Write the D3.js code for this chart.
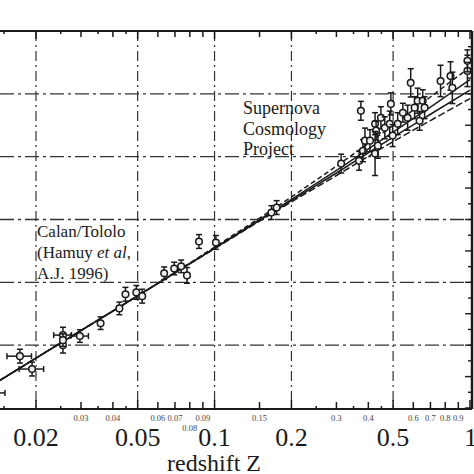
<!DOCTYPE html>
<html><head><meta charset="utf-8">
<script src="https://cdn.jsdelivr.net/npm/d3@7"></script>
<style>body{margin:0;background:#fff}svg{display:block}text{font-family:"Liberation Serif","DejaVu Serif",serif}</style>
</head><body><svg id="c" width="474" height="474"></svg>
<script>
// Calan/Tololo: redshift, magnitude, mag error, z error fraction
const calanZ = [0.0135,0.0173,0.0193,0.0255,0.0255,0.0255,0.0297,0.0358,0.0424,0.0448,0.0494,0.0521,0.0635,0.0695,0.074,0.078,0.0869,0.1012,0.167,0.175];
const calanM = [14.48,15.65,15.24,16.32,16.0,16.16,16.29,16.70,17.17,17.62,17.68,17.56,18.29,18.44,18.51,18.22,19.30,19.27,20.22,20.38];
const calanErr = [0.2,0.22,0.22,0.25,0.25,0.2,0.2,0.2,0.2,0.22,0.22,0.22,0.2,0.2,0.2,0.25,0.22,0.22,0.22,0.22];
const calanZErr = [0.12,0.11,0.11,0.08,0.0,0.0,0.08,0.0,0.0,0.0,0.0,0.0,0.0,0.0,0.0,0.0,0.0,0.0,0.0,0.0];
// Supernova Cosmology Project
const scpZ = [0.313,0.374,0.368,0.381,0.388,0.406,0.425,0.429,0.448,0.464,0.425,0.49,0.485,0.521,0.546,0.57,0.586,0.607,0.624,0.653,0.635,0.664,0.767,0.839,0.853,0.977,0.977,0.436,0.498];
const scpM = [21.78,23.46,21.87,22.19,22.51,22.51,23.05,22.83,23.24,22.92,22.10,23.68,23.05,23.05,23.40,23.24,24.35,23.56,23.78,23.78,23.14,23.56,24.41,24.57,24.19,24.73,25.05,22.35,22.67];
const scpErr = [0.3,0.3,0.3,0.35,0.4,0.35,0.35,0.3,0.35,0.35,0.7,0.35,0.4,0.35,0.3,0.4,0.45,0.35,0.4,0.35,0.3,0.35,0.5,0.45,0.5,0.5,0.35,0.4,0.35];
// model curves
const curveZ = [0.01,0.02,0.05,0.1,0.2,0.3,0.5,0.7,1.0];
const curveA = [14.08,15.59,17.57,19.12,20.72,21.70,23.0,23.90,24.85]; // dashed top
const curveB = [14.08,15.59,17.57,19.09,20.64,21.56,22.78,23.58,24.45];
const curveC = [14.08,15.59,17.57,19.08,20.60,21.48,22.62,23.35,24.12];
const curveD = [14.08,15.59,17.57,19.07,20.56,21.40,22.48,23.15,23.85]; // dashed bottom
const majorTicks = [0.02,0.05,0.1,0.2,0.5,1.0];
const majorLabels = ["0.02","0.05","0.1","0.2","0.5","1."];
const minorTicks = [0.01,0.03,0.04,0.06,0.07,0.08,0.09,0.15,0.3,0.4,0.6,0.7,0.8,0.9];
const minorLabels = ["0.01","0.03","0.04","0.06","0.07","0.08","0.09","0.15","0.3","0.4","0.6","0.7","0.8","0.9"];
const allTicks = [0.01,0.015,0.02,0.025,0.03,0.035,0.04,0.045,0.05,0.06,0.07,0.08,0.09,0.1,0.15,0.2,0.25,0.3,0.35,0.4,0.45,0.5,0.6,0.7,0.8,0.9,1.0];
const gridM = [24,22,20,18,16];
const magTicks = [14,14.5,15,15.5,16,16.5,17,17.5,18,18.5,19,19.5,20,20.5,21,21.5,22,22.5,23,23.5,24,24.5,25,25.5,26];

const svg = d3.select("#c");
const x = d3.scaleLog().domain([0.02,1.0]).range([36,470]);
const y = d3.scaleLinear().domain([14,26]).range([408,31]);
const X0=0, X1=472, Y0=31, Y1=409;
svg.append("defs").append("clipPath").attr("id","cp").append("rect").attr("x",X0).attr("y",Y0).attr("width",X1-X0).attr("height",Y1-Y0);
const g = svg.append("g").attr("clip-path","url(#cp)");
const ink="#1a1a1a";
g.selectAll(".hg").data(gridM).join("line").attr("x1",X0).attr("x2",X1).attr("y1",d=>y(d)).attr("y2",d=>y(d))
 .attr("stroke","#333").attr("stroke-width",1.3).attr("stroke-dasharray","14,4,3,4");
g.selectAll(".vg").data(majorTicks.slice(0,5)).join("line").attr("x1",d=>x(d)).attr("x2",d=>x(d)).attr("y1",Y0).attr("y2",Y1)
 .attr("stroke","#333").attr("stroke-width",1.2).attr("stroke-dasharray","10,4,2,4");
const line = d3.line().x((d,i)=>x(curveZ[i])).y(d=>y(d)).curve(d3.curveMonotoneX);
[[curveA,"5,3"],[curveB,null],[curveC,null],[curveD,"7,3"]].forEach(([c,da])=>{
  g.append("path").attr("d",line(c)).attr("fill","none").attr("stroke",ink).attr("stroke-width",1.5).attr("stroke-dasharray",da);
});
function points(Z,M,E,ZE){
  Z.forEach((z,i)=>{
    const cx=x(z), cy=y(M[i]);
    const e=E[i], ze=ZE?ZE[i]:0;
    g.append("line").attr("x1",cx).attr("x2",cx).attr("y1",y(M[i]+e)).attr("y2",y(M[i]-e)).attr("stroke",ink).attr("stroke-width",1.5);
    [M[i]+e,M[i]-e].forEach(v=>g.append("line").attr("x1",cx-3).attr("x2",cx+3).attr("y1",y(v)).attr("y2",y(v)).attr("stroke",ink).attr("stroke-width",1.5));
    if(ze>0){
      g.append("line").attr("x1",x(z*(1-ze))).attr("x2",x(z*(1+ze))).attr("y1",cy).attr("y2",cy).attr("stroke",ink).attr("stroke-width",1.5);
      [z*(1-ze),z*(1+ze)].forEach(v=>g.append("line").attr("x1",x(v)).attr("x2",x(v)).attr("y1",cy-3).attr("y2",cy+3).attr("stroke",ink).attr("stroke-width",1.5));
    }
    g.append("circle").attr("cx",cx).attr("cy",cy).attr("r",3.3).attr("fill","#eee").attr("stroke",ink).attr("stroke-width",1.5);
  });
}
points(calanZ,calanM,calanErr,calanZErr);
points(scpZ,scpM,scpErr,null);
svg.append("line").attr("x1",X0).attr("x2",X1).attr("y1",Y0).attr("y2",Y0).attr("stroke",ink).attr("stroke-width",1.8);
svg.append("line").attr("x1",X0).attr("x2",X1).attr("y1",Y1).attr("y2",Y1).attr("stroke",ink).attr("stroke-width",1.8);
svg.append("line").attr("x1",X1).attr("x2",X1).attr("y1",Y0).attr("y2",Y1).attr("stroke",ink).attr("stroke-width",2.5);
const isMajor=d=>majorTicks.includes(d)||[0.1,0.01].includes(d);
svg.selectAll(".tt").data(allTicks).join("line").attr("x1",d=>x(d)).attr("x2",d=>x(d)).attr("y1",Y0).attr("y2",d=>Y0+(isMajor(d)?8:minorTicks.includes(d)?6:3)).attr("stroke",ink).attr("stroke-width",1.5);
svg.selectAll(".bt").data(allTicks).join("line").attr("x1",d=>x(d)).attr("x2",d=>x(d)).attr("y1",Y1).attr("y2",d=>Y1-(isMajor(d)?9:minorTicks.includes(d)?7:3)).attr("stroke",ink).attr("stroke-width",1.5);
svg.selectAll(".rt").data(magTicks).join("line").attr("x1",X1).attr("x2",d=>X1-(d%1===0?7:4)).attr("y1",d=>y(d)).attr("y2",d=>y(d)).attr("stroke",ink).attr("stroke-width",1.4);
svg.selectAll(".ml").data(minorTicks).join("text").attr("x",d=>x(d)+(d===0.01?18:0)).attr("y",d=>d===0.08?431:421)
 .attr("text-anchor","middle").attr("font-size",8.5).attr("fill","#444").text((d,i)=>d===0.01?"0":minorLabels[i]);
svg.selectAll(".Ml").data(majorTicks).join("text").attr("x",d=>x(d)+(d===1?4:0)).attr("y",446)
 .attr("text-anchor","middle").attr("font-size",26).attr("fill",ink).text((d,i)=>majorLabels[i]);
svg.append("text").attr("x",214).attr("y",471).attr("text-anchor","middle").attr("font-size",24).attr("fill",ink).text("redshift Z");
const t1=svg.append("g").attr("font-size",18).attr("fill",ink);
["Supernova","Cosmology","Project"].forEach((s,i)=>t1.append("text").attr("x",243).attr("y",114+i*20.5).text(s));
const t2=svg.append("g").attr("font-size",17).attr("fill",ink);
t2.append("text").attr("x",37).attr("y",237).text("Calan/Tololo");
const l2=t2.append("text").attr("x",37).attr("y",258);
l2.append("tspan").text("(Hamuy ");l2.append("tspan").attr("font-style","italic").text("et al");l2.append("tspan").text(",");
t2.append("text").attr("x",37).attr("y",279).text("A.J. 1996)");
</script></body></html>
